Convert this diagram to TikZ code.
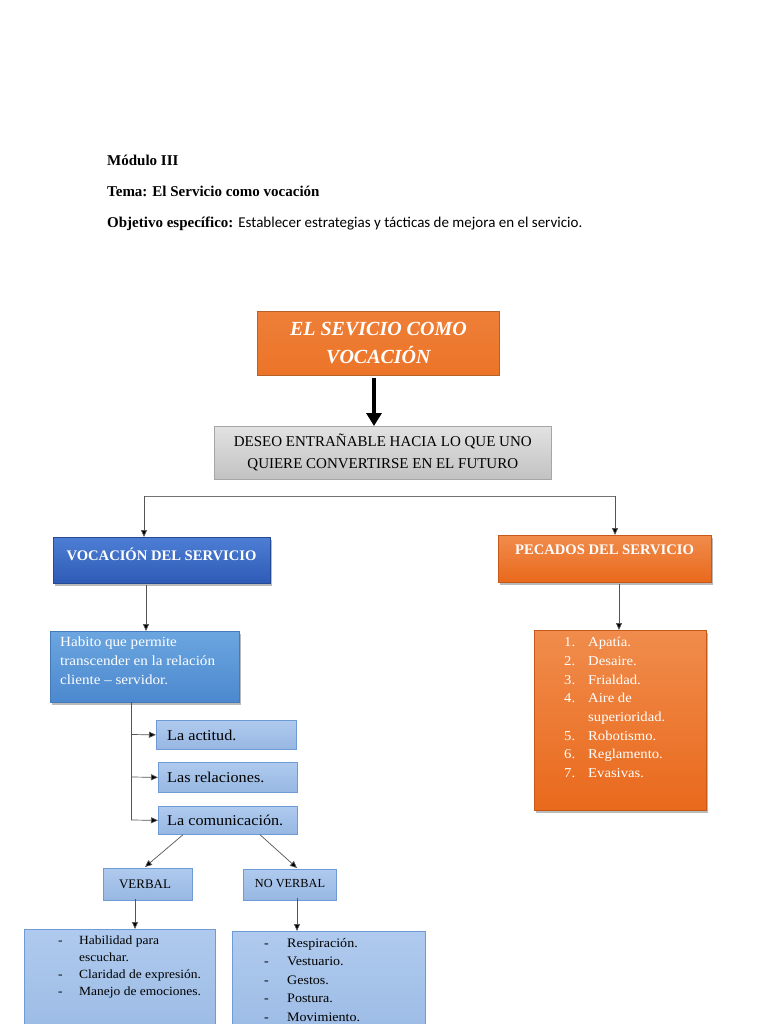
\documentclass[tikz,border=0pt]{standalone}
\usepackage{fontspec}
\setmainfont{Liberation Serif}
\newfontfamily\cam[FakeStretch=1.08,Ligatures=TeX]{Liberation Serif}
\newfontfamily\calib{Carlito}
\usetikzlibrary{arrows.meta,shadows}
\definecolor{orTop}{HTML}{EE7F38}
\definecolor{orBot}{HTML}{EC7428}
\definecolor{orLine}{HTML}{B5622A}
\definecolor{grTop}{HTML}{E2E2E2}
\definecolor{grBot}{HTML}{C2C2C2}
\definecolor{grLine}{HTML}{A6A6A6}
\definecolor{dbTop}{HTML}{4D7ED4}
\definecolor{dbBot}{HTML}{2E5BB6}
\definecolor{mbTop}{HTML}{6BA6E0}
\definecolor{mbBot}{HTML}{4C88CE}
\definecolor{lbTop}{HTML}{AFCAEE}
\definecolor{lbBot}{HTML}{97B7E2}
\definecolor{lbLine}{HTML}{6E9BD5}
\definecolor{poTop}{HTML}{F08C4C}
\definecolor{poBot}{HTML}{E9691C}
\definecolor{conn}{HTML}{555555}
\tikzset{
  shd/.style={drop shadow={opacity=0.45,shadow xshift=2pt,shadow yshift=-2.5pt,fill=black!60}},
  boxbase/.style={rectangle,inner sep=0pt,anchor=north west},
  topbox/.style={boxbase,top color=orTop,bottom color=orBot,draw=orLine,line width=0.8pt,text=white,
     font=\fontsize{20}{28}\selectfont\bfseries\itshape,align=center},
  graybox/.style={boxbase,top color=grTop,bottom color=grBot,draw=grLine,line width=0.6pt,
     font=\fontsize{15}{22}\selectfont,align=center},
  darkblue/.style={boxbase,top color=dbTop,bottom color=dbBot,draw=dbBot!80!black,line width=0.4pt,shd},
  midblue/.style={boxbase,top color=mbTop,bottom color=mbBot,draw=mbBot!90!black,line width=0.4pt,shd},
  lightblue/.style={boxbase,top color=lbTop,bottom color=lbBot,draw=lbLine,line width=0.7pt},
  orbox/.style={boxbase,top color=poTop,bottom color=poBot,draw=poBot!85!black,line width=0.4pt,shd},
  arr/.style={draw=conn,line width=0.7pt,-{Triangle[length=7pt,width=6pt,fill=black]}},
  barline/.style={draw=black!55,line width=0.9pt},
  headtxt/.style={anchor=base west,inner sep=0pt,font=\fontsize{15}{17}\selectfont\bfseries},
  smalltxt/.style={anchor=west,inner sep=0pt,font=\cam\fontsize{15}{17}\selectfont}
}
\begin{document}
\begin{tikzpicture}[x=1pt,y=-1pt]
\useasboundingbox[fill=white] (0,0) rectangle (768,1024);
\clip (0,0) rectangle (768,1024);

% header
\node[headtxt] (mod) at (107,166) {Módulo III};
\node[headtxt] (tema) at (107,197) {Tema: El Servicio como vocación};
\node[headtxt] (obj) at (107,228) {Objetivo específico: {\mdseries\calib\fontsize{15}{17}\selectfont Establecer estrategias y tácticas de mejora en el servicio.}};

% top box
\node[topbox,minimum width=242pt,minimum height=64pt] (top) at (257,311) {EL SEVICIO COMO\\VOCACIÓN};
\node[graybox,minimum width=337pt,minimum height=53pt] (deseo) at (214,426) {DESEO ENTRAÑABLE HACIA LO QUE UNO\\QUIERE CONVERTIRSE EN EL FUTURO};
\coordinate (ax) at (374,0);
\draw[line width=4pt,-{Triangle[length=13pt,width=15pt]}] ([yshift=-2pt]top.south -| ax) -- (deseo.north -| ax);

% second level
\node[darkblue,minimum width=217pt,minimum height=46pt] (voc) at (53,537) {};
\node[anchor=center,text=white,font=\fontsize{14.6}{16}\selectfont\bfseries] (voct) at (161.5,554) {VOCACIÓN DEL SERVICIO};
\node[orbox,minimum width=213pt,minimum height=47pt] (pec) at (498,535) {};
\node[anchor=center,text=white,font=\fontsize{14.6}{16}\selectfont\bfseries] (pect) at (604.5,550) {PECADOS DEL SERVICIO};

\coordinate (barL) at (144,496);
\coordinate (barR) at (615,496);
\draw[barline] (barL) -- (barR);
\draw[arr] (barL) -- (barL |- voc.north);
\draw[arr] (barR) -- (barR |- pec.north);

% habito
\node[midblue,minimum width=189pt,minimum height=71pt] (hab) at (50,631) {};
\node[anchor=north west,inner sep=0pt,text=white,align=left,font=\cam\fontsize{14}{19}\selectfont] (habt) at (60,637) {Habito que permite\\transcender en la relación\\cliente – servidor.};
\coordinate (hx) at (146,0);
\draw[arr] ([yshift=-2pt]voc.south -| hx) -- (hab.north -| hx);

% three small boxes
\node[lightblue,minimum width=140pt,minimum height=29pt] (act) at (156,720) {};
\node[smalltxt] (actt) at (167,735) {La actitud.};
\node[lightblue,minimum width=139pt,minimum height=30pt] (rel) at (158,762) {};
\node[smalltxt] (relt) at (167,777) {Las relaciones.};
\node[lightblue,minimum width=139pt,minimum height=28pt] (com) at (158,806) {};
\node[smalltxt] (comt) at (167,820) {La comunicación.};

\coordinate (trunk) at (131,702);
\draw[conn,line width=0.9pt] (trunk) -- (131,820);
\draw[arr] (131,734.5) -- (act.west);
\draw[arr] (131,777) -- (rel.west);
\draw[arr] (131,820) -- (com.west);

% verbal / no verbal
\node[lightblue,minimum width=89pt,minimum height=32pt] (verb) at (103,868) {};
\node[anchor=center,inner sep=0pt,font=\fontsize{13}{14}\selectfont] (verbt) at (145,884) {VERBAL};
\node[lightblue,minimum width=93pt,minimum height=31pt] (nverb) at (243,869) {};
\node[anchor=center,inner sep=0pt,font=\fontsize{12.3}{14}\selectfont] (nverbt) at (290,884) {NO VERBAL};
\draw[arr] ([xshift=25pt]com.south west) -- (145,867);
\draw[arr] ([xshift=102pt]com.south west) -- (297,868);

% bottom lists
\node[lightblue,minimum width=191pt,minimum height=130pt] (vlist) at (24,929) {};
\node[anchor=north west,inner sep=0pt,align=left,font=\cam\fontsize{12.5}{16.8}\selectfont] (vlistt) at (58,936)
  {\makebox[21pt][l]{-}Habilidad para\\\hspace*{21pt}escuchar.\\\makebox[21pt][l]{-}Claridad de expresión.\\\makebox[21pt][l]{-}Manejo de emociones.};
\node[lightblue,minimum width=193pt,minimum height=130pt] (nlist) at (232,931) {};
\node[anchor=north west,inner sep=0pt,align=left,font=\cam\fontsize{13}{18.5}\selectfont] (nlistt) at (264,938)
  {\makebox[23pt][l]{-}Respiración.\\\makebox[23pt][l]{-}Vestuario.\\\makebox[23pt][l]{-}Gestos.\\\makebox[23pt][l]{-}Postura.\\\makebox[23pt][l]{-}Movimiento.};
\draw[arr] ([yshift=2pt]verb.south -| 135,0) -- (vlist.north -| 135,0);
\draw[arr] ([yshift=3pt]nverb.south -| 297,0) -- (nlist.north -| 297,0);

% pecados list
\node[orbox,minimum width=172pt,minimum height=180pt] (plist) at (534,630) {};
\node[anchor=north west,inner sep=0pt,align=left,text=white,font=\cam\fontsize{13.6}{18.7}\selectfont] (plistt) at (564,637)
  {\makebox[24pt][l]{1.}Apatía.\\\makebox[24pt][l]{2.}Desaire.\\\makebox[24pt][l]{3.}Frialdad.\\\makebox[24pt][l]{4.}Aire de\\\hspace*{24pt}superioridad.\\\makebox[24pt][l]{5.}Robotismo.\\\makebox[24pt][l]{6.}Reglamento.\\\makebox[24pt][l]{7.}Evasivas.};
\draw[arr] ([yshift=-2pt]pec.south -| 619,0) -- (plist.north -| 619,0);
\end{tikzpicture}
\end{document}
